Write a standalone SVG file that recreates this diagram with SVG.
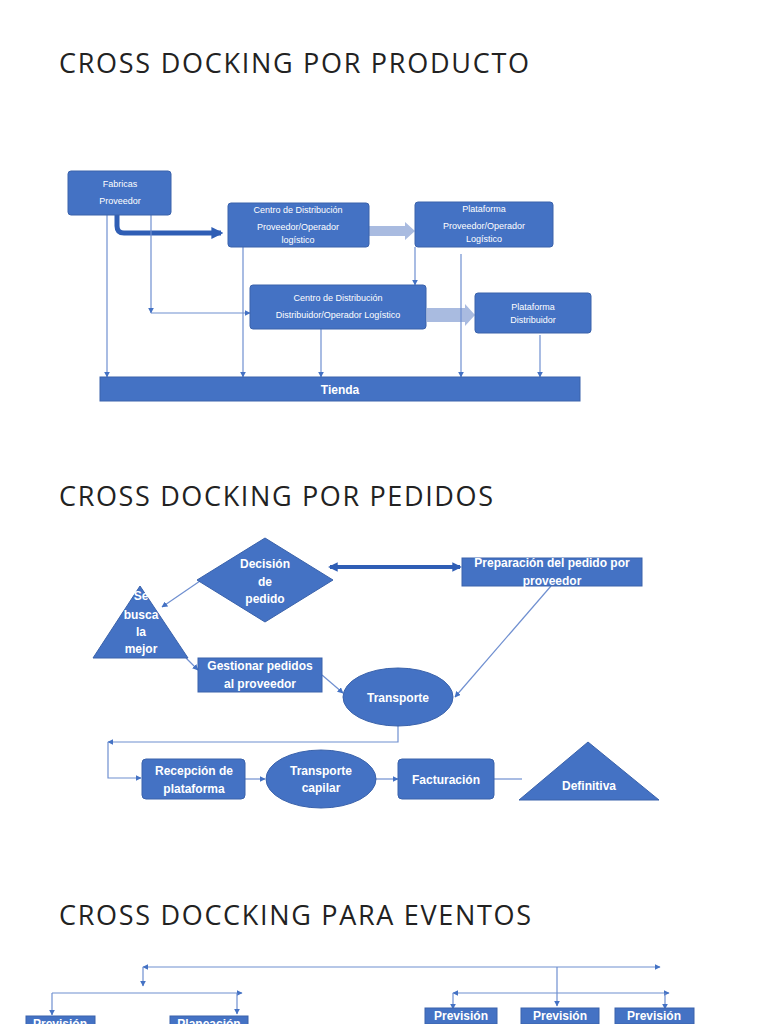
<svg xmlns="http://www.w3.org/2000/svg" width="768" height="1024" viewBox="0 0 768 1024">
<defs>
<style>
.t{font-family:"Open Sans","Liberation Sans",sans-serif;font-size:27px;fill:#222}
.n{fill:#4472c4;stroke:#3a62ab;stroke-width:1}
.w{font-family:"Liberation Sans",sans-serif;fill:#fff;text-anchor:middle}
.s{font-size:9px}
.m{font-size:12px;font-weight:bold}
.l{fill:none;stroke:#6f8fd0;stroke-width:1.2}
</style>
<marker id="a" viewBox="0 0 10 10" refX="9" refY="5" markerWidth="5" markerHeight="5" orient="auto-start-reverse"><path d="M0 0L10 5L0 10z" fill="#4472c4"/></marker>
<marker id="b" viewBox="0 0 10 10" refX="8" refY="5" markerWidth="2.4" markerHeight="2.4" orient="auto-start-reverse"><path d="M0 0L10 5L0 10z" fill="#2f5eb5"/></marker>
</defs>
<rect width="768" height="1024" fill="#fff"/>
<text class="t" x="59" y="73" textLength="470">CROSS DOCKING POR PRODUCTO</text>
<text class="t" x="59" y="506" textLength="434">CROSS DOCKING POR PEDIDOS</text>
<text class="t" x="59" y="925" textLength="472">CROSS DOCCKING PARA EVENTOS</text>

<g id="connectors">
<path d="M117 215V226Q117 233 124 233H221" fill="none" stroke="#2f5eb5" stroke-width="5" marker-end="url(#b)"/>
<path d="M369 226H405V222L415 231L405 240V236H369z" fill="#a9bbe0"/>
<path d="M427 308H465V304L475 315L465 326V322H427z" fill="#a9bbe0"/>
<path class="l" d="M107 215V377" marker-end="url(#a)"/>
<path class="l" d="M151 215V313" marker-end="url(#a)"/>
<path class="l" d="M151 313H250" marker-end="url(#a)"/>
<path class="l" d="M243 247V377" marker-end="url(#a)"/>
<path class="l" d="M415 247V285" marker-end="url(#a)"/>
<path class="l" d="M321 329V377" marker-end="url(#a)"/>
<path class="l" d="M461 254V377" marker-end="url(#a)"/>
<path class="l" d="M540 335V377" marker-end="url(#a)"/>

<path d="M330 567H460" stroke="#2f5eb5" stroke-width="4" marker-start="url(#b)" marker-end="url(#b)"/>
<path class="l" d="M200 581L162 607" marker-end="url(#a)"/>
<path class="l" d="M186 658L198 670" marker-end="url(#a)"/>
<path class="l" d="M322 675L343 693" marker-end="url(#a)"/>
<path class="l" d="M551 586L455 697" marker-end="url(#a)"/>
<path class="l" d="M398 726V742H108" marker-end="url(#a)"/>
<path class="l" d="M108 742V778H141" marker-end="url(#a)"/>
<path class="l" d="M245 779H265" marker-end="url(#a)"/>
<path class="l" d="M376 779H398" marker-end="url(#a)"/>
<path class="l" d="M494 779H522"/>

<path class="l" d="M143 967H660" marker-start="url(#a)" marker-end="url(#a)"/>
<path class="l" d="M143 967V986" marker-end="url(#a)"/>
<path class="l" d="M557 967V1006" marker-end="url(#a)"/>
<path class="l" d="M52 993H242" marker-end="url(#a)"/>
<path class="l" d="M52 993V1015" marker-end="url(#a)"/>
<path class="l" d="M237 993V1014" marker-end="url(#a)"/>
<path class="l" d="M453 993H669" marker-start="url(#a)" marker-end="url(#a)"/>
<path class="l" d="M453 993V1009" marker-end="url(#a)"/>
<path class="l" d="M665 993V1009" marker-end="url(#a)"/>
</g>

<g id="fabricas"><rect class="n" x="68" y="171" width="103" height="44" rx="3"/><text class="w s" x="120" y="187">Fabricas</text><text class="w s" x="120" y="204">Proveedor</text></g>
<g id="cd-prov"><rect class="n" x="228" y="203" width="141" height="44" rx="3"/><text class="w s" x="298" y="213">Centro de Distribución</text><text class="w s" x="298" y="230">Proveedor/Operador</text><text class="w s" x="298" y="243">logístico</text></g>
<g id="plat-prov"><rect class="n" x="415" y="202" width="138" height="45" rx="3"/><text class="w s" x="484" y="212">Plataforma</text><text class="w s" x="484" y="229">Proveedor/Operador</text><text class="w s" x="484" y="242">Logístico</text></g>
<g id="cd-dist"><rect class="n" x="250" y="285" width="176" height="44" rx="3"/><text class="w s" x="338" y="301">Centro de Distribución</text><text class="w s" x="338" y="318">Distribuidor/Operador Logístico</text></g>
<g id="plat-dist"><rect class="n" x="475" y="293" width="116" height="40" rx="3"/><text class="w s" x="533" y="310">Plataforma</text><text class="w s" x="533" y="323">Distribuidor</text></g>
<g id="tienda"><rect class="n" x="100" y="377" width="480" height="24"/><text class="w" x="340" y="394" font-size="12" font-weight="bold">Tienda</text></g>

<g id="decision"><path class="n" d="M265 538L333 580L265 622L197 580z"/><text class="w m" x="265" y="568">Decisión</text><text class="w m" x="265" y="586">de</text><text class="w m" x="265" y="603">pedido</text></g>
<g id="preparacion"><rect class="n" x="462" y="558" width="180" height="28"/><text class="w m" x="552" y="567">Preparación del pedido por</text><text class="w m" x="552" y="585">proveedor</text></g>
<g id="busca"><path class="n" d="M140 586L188 658H93z"/><text class="w m" x="141" y="600">Se</text><text class="w m" x="141" y="619">busca</text><text class="w m" x="141" y="636">la</text><text class="w m" x="141" y="653">mejor</text></g>
<g id="gestionar"><rect class="n" x="198" y="658" width="124" height="34"/><text class="w m" x="260" y="670">Gestionar pedidos</text><text class="w m" x="260" y="688">al proveedor</text></g>
<g id="transporte"><ellipse class="n" cx="398" cy="697" rx="55" ry="29"/><text class="w m" x="398" y="702">Transporte</text></g>
<g id="recepcion"><rect class="n" x="142" y="759" width="103" height="40" rx="4"/><text class="w m" x="194" y="775">Recepción de</text><text class="w m" x="194" y="793">plataforma</text></g>
<g id="capilar"><ellipse class="n" cx="321" cy="779" rx="55" ry="29"/><text class="w m" x="321" y="775">Transporte</text><text class="w m" x="321" y="792">capilar</text></g>
<g id="facturacion"><rect class="n" x="398" y="759" width="96" height="40" rx="4"/><text class="w m" x="446" y="784">Facturación</text></g>
<g id="definitiva"><path class="n" d="M588 742L659 800H519z"/><text class="w m" x="589" y="790">Definitiva</text></g>

<g id="ev1"><rect class="n" x="26" y="1016" width="69" height="14"/><text class="w m" x="60" y="1028">Previsión</text></g>
<g id="ev2"><rect class="n" x="170" y="1016" width="78" height="14"/><text class="w m" x="209" y="1028">Planeación</text></g>
<g id="ev3"><rect class="n" x="425" y="1008" width="72" height="16"/><text class="w m" x="461" y="1020">Previsión</text></g>
<g id="ev4"><rect class="n" x="521" y="1008" width="78" height="16"/><text class="w m" x="560" y="1020">Previsión</text></g>
<g id="ev5"><rect class="n" x="615" y="1008" width="79" height="16"/><text class="w m" x="654" y="1020">Previsión</text></g>
</svg>
